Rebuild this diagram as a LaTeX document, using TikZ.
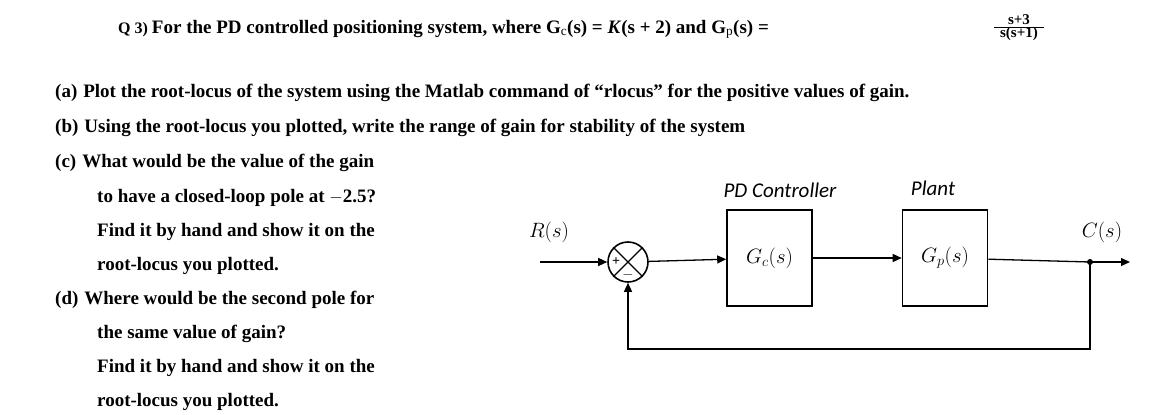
\documentclass[tikz,border=0pt]{standalone}
\usepackage{fontspec}
\setmainfont{Liberation Serif}
\newfontfamily\carl{Carlito}
\usetikzlibrary{arrows.meta}
\begin{document}
\begin{tikzpicture}[x=1pt,y=-1pt,
  txt/.style={anchor=base west,inner sep=0pt,font=\fontsize{19}{19}\selectfont\bfseries},
  blk/.style={draw,line width=1.6pt,minimum width=85pt,minimum height=96pt},
  lbl/.style={font=\carl\itshape\fontsize{21}{21}\selectfont,inner sep=0pt},
  arr/.style={line width=1.3pt,-{Triangle[length=9pt,width=8pt]}},
  ln/.style={line width=1.3pt}]
\useasboundingbox (0,0) rectangle (1168,415);
\node[txt] (q) at (118,33) {\fontsize{16}{16}\selectfont Q 3) \fontsize{19}{19}\selectfont For the PD controlled positioning system, where G$_\mathrm{c}$(s) = \textit{K}(s + 2) and G$_\mathrm{p}$(s) =};
\node[inner sep=0pt,font=\fontsize{15}{15}\selectfont\bfseries] (fr) at (1019,28) {\begin{tabular}{c}s+3\\[-2pt]\hline s(s+1)\end{tabular}};
\node[txt] (a) at (55,97) {(a)\hspace{6pt}Plot the root-locus of the system using the Matlab command of “rlocus” for the positive values of gain.};
\node[txt] (b) at (55,132) {(b)\hspace{6pt}Using the root-locus you plotted, write the range of gain for stability of the system};
\node[txt] (c) at (55,167) {(c)\hspace{6pt}What would be the value of the gain};
\node[txt] (c2) at (97,202) {to have a closed-loop pole at $-$2.5?};
\node[txt] (c3) at (97,236) {Find it by hand and show it on the};
\node[txt] (c4) at (97,270) {root-locus you plotted.};
\node[txt] (d) at (55,304) {(d)\hspace{6pt}Where would be the second pole for};
\node[txt] (d2) at (97,338) {the same value of gain?};
\node[txt] (d3) at (97,372) {Find it by hand and show it on the};
\node[txt] (d4) at (97,406) {root-locus you plotted.};
% diagram
\node[draw,circle,line width=1.6pt,minimum width=40pt,inner sep=0pt] (s) at (628,262) {};
\draw[ln] (s.45)--(s.225) (s.135)--(s.-45);
\node[font=\fontsize{14}{14}\selectfont\bfseries,inner sep=0pt] (pl) at (616,262) {+};
\node[font=\fontsize{14}{14}\selectfont\bfseries,inner sep=0pt] (mi) at (628,275) {$-$};
\node[blk] (gc) at (769.5,258) {};
\node[lbl] at (gc) {$G_c(s)$};
\node[blk] (gp) at (945,258) {};
\node[lbl] at (gp) {$G_p(s)$};
\coordinate (in) at (540,262);
\coordinate (o) at (1090,262);
\coordinate (oe) at (1130,262);
\coordinate (fb) at (1090,349);
\coordinate (fb2) at (628,349);
\fill (o) circle (3pt);
\draw[arr] (in)--(s);
\draw[arr] (s)--(gc);
\draw[arr] (gc)--(gp);
\draw[ln] (gp)--(o);
\draw[arr] (o)--(oe);
\draw[arr] (o)--(fb)--(fb2)--(s);
\node[lbl] (r) at (549,232) {$R(s)$};
\node[lbl] (cs) at (1102,232) {$C(s)$};
\node[lbl] (pd) at (780,190) {PD Controller};
\node[lbl] (pt) at (933,188) {Plant};
\end{tikzpicture}
\end{document}
